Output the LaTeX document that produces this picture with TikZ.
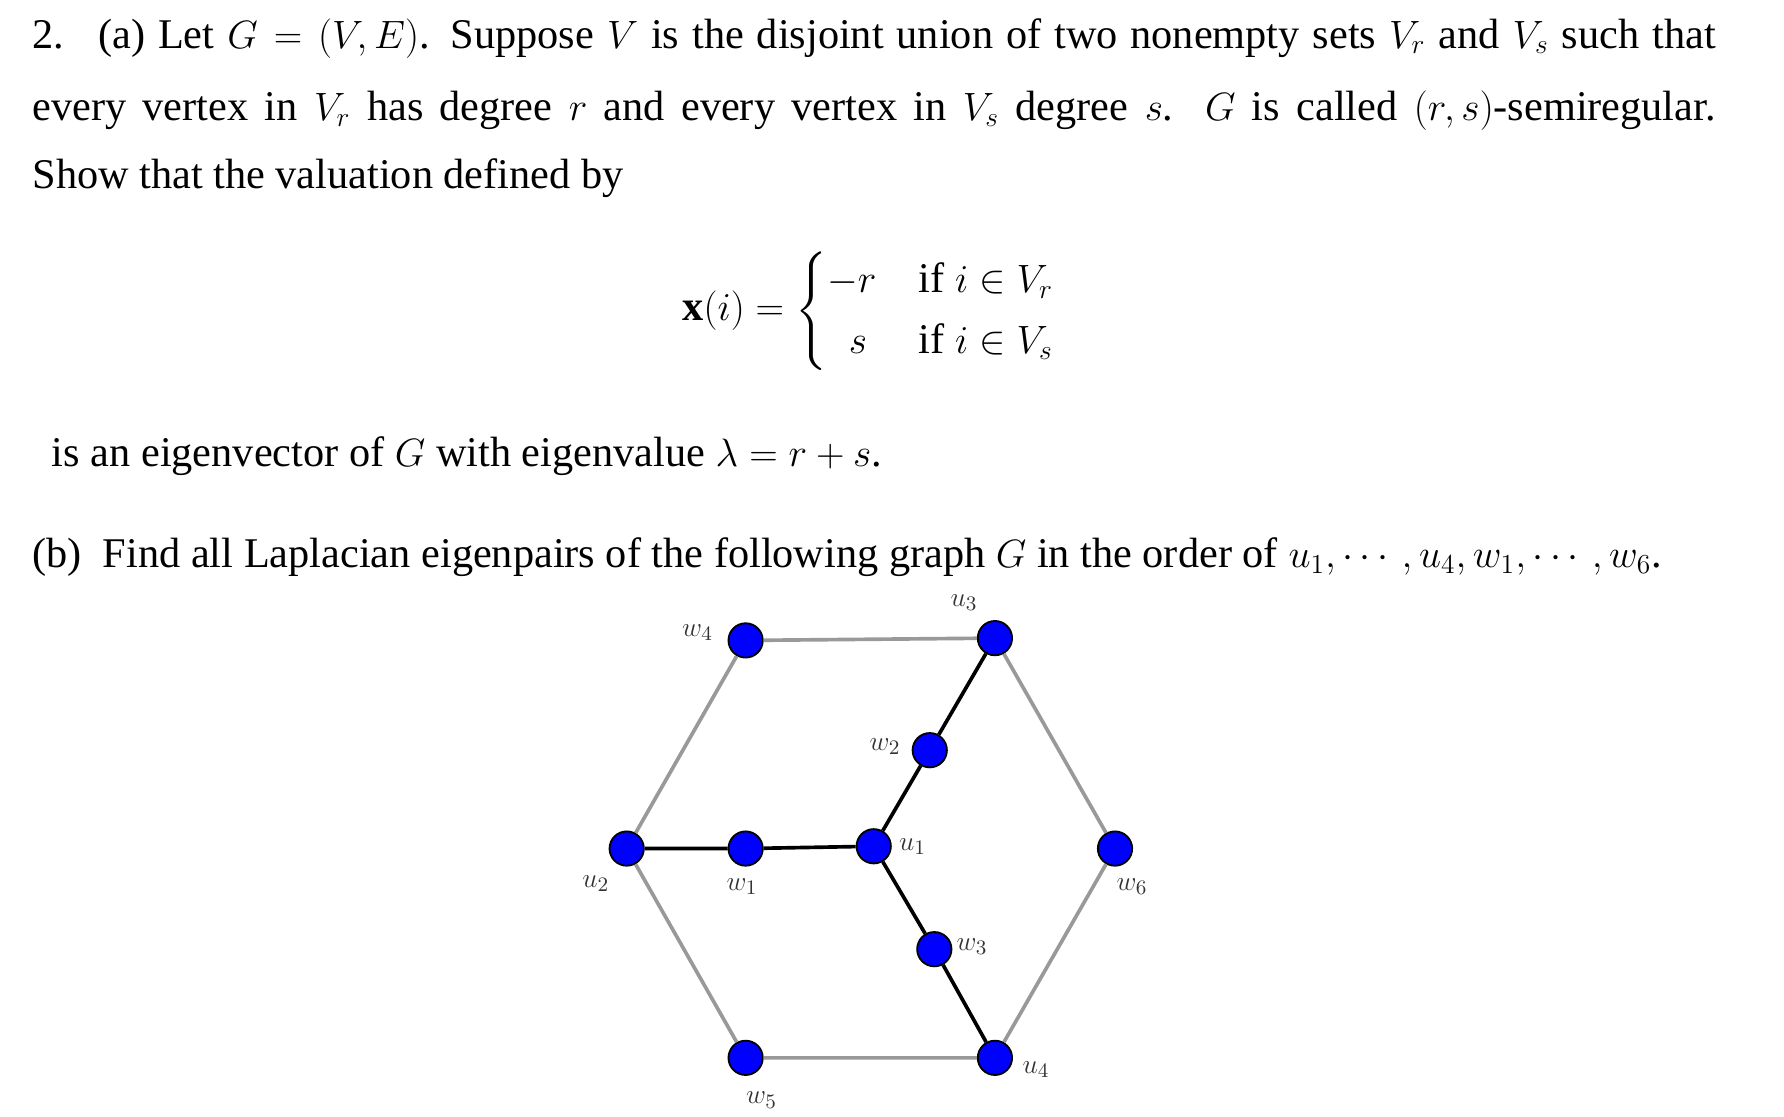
\documentclass[tikz,border=0pt]{standalone}
\usepackage{amsmath}
\usepackage{fontspec}
\setmainfont{Liberation Serif}
\begin{document}
\begin{tikzpicture}[x=0.5pt,y=-0.5pt,
  vtx/.style={circle,fill=blue,draw=black,line width=0.8pt,minimum size=15pt,inner sep=0pt},
  gedge/.style={draw=gray!80,line width=1.6pt},
  bedge/.style={draw=black,line width=1.6pt},
  lab/.style={font=\fontsize{13}{15}\selectfont\itshape,text=black!80}]
\useasboundingbox (0,0) rectangle (1560,976);
\tikzset{tx/.style={anchor=base west,inner sep=0pt,font=\fontsize{18.5}{22}\selectfont}}
\node[tx] (l1) at (28,42) {\makebox[736pt][s]{2. \ (a) Let $G=(V,E)$. Suppose $V$ is the disjoint union of two nonempty sets $V_r$ and $V_s$ such that}};
\node[tx] (l2) at (28,105) {\makebox[736pt][s]{every vertex in $V_r$ has degree $r$ and every vertex in $V_s$ degree $s$. $G$ is called $(r,s)$-semiregular.}};
\node[tx] (l3) at (28,165) {Show that the valuation defined by};
\node[inner sep=0pt,font=\fontsize{18.5}{22}\selectfont] (f) at (760,272) {$\mathbf{x}(i)=\begin{cases}-r & \text{if } i\in V_r\\ \;\;s & \text{if } i\in V_s\end{cases}$};
\node[tx] (l4) at (45,408) {is an eigenvector of $G$ with eigenvalue $\lambda=r+s$.};
\node[tx] (l5) at (28,496) {(b) \ Find all Laplacian eigenpairs of the following graph $G$ in the order of $u_1,\cdots,u_4,w_1,\cdots,w_6$.};

\coordinate (c) at (0,0);
\node[vtx] (w4) at (652,560) {};
\node[vtx] (u3) at (870,558) {};
\node[vtx] (w2) at (813,656) {};
\node[vtx] (u2) at (548,742) {};
\node[vtx] (w1) at (652,742) {};
\node[vtx] (u1) at (764,740) {};
\node[vtx] (w6) at (975,742) {};
\node[vtx] (w3) at (817,830) {};
\node[vtx] (w5) at (652,925) {};
\node[vtx] (u4) at (870,925) {};
\begin{scope}[on background layer/.style={}]
\end{scope}
\path[gedge] (w4)--(u3) (w4)--(u2) (u2)--(w5) (w5)--(u4) (u4)--(w6) (w6)--(u3);
\path[bedge] (u3)--(w2) (w2)--(u1) (u2)--(w1) (w1)--(u1) (u1)--(w3) (w3)--(u4);
\node[lab] (lw4) at (610,553) {$w_4$};
\node[lab] (lu3) at (843,527) {$u_3$};
\node[lab] (lw2) at (774,653) {$w_2$};
\node[lab] (lu1) at (798,740) {$u_1$};
\node[lab] (lu2) at (521,773) {$u_2$};
\node[lab] (lw1) at (649,775) {$w_1$};
\node[lab] (lw6) at (990,775) {$w_6$};
\node[lab] (lw3) at (850,828) {$w_3$};
\node[lab] (lw5) at (666,962) {$w_5$};
\node[lab] (lu4) at (906,935) {$u_4$};
\end{tikzpicture}
\end{document}
